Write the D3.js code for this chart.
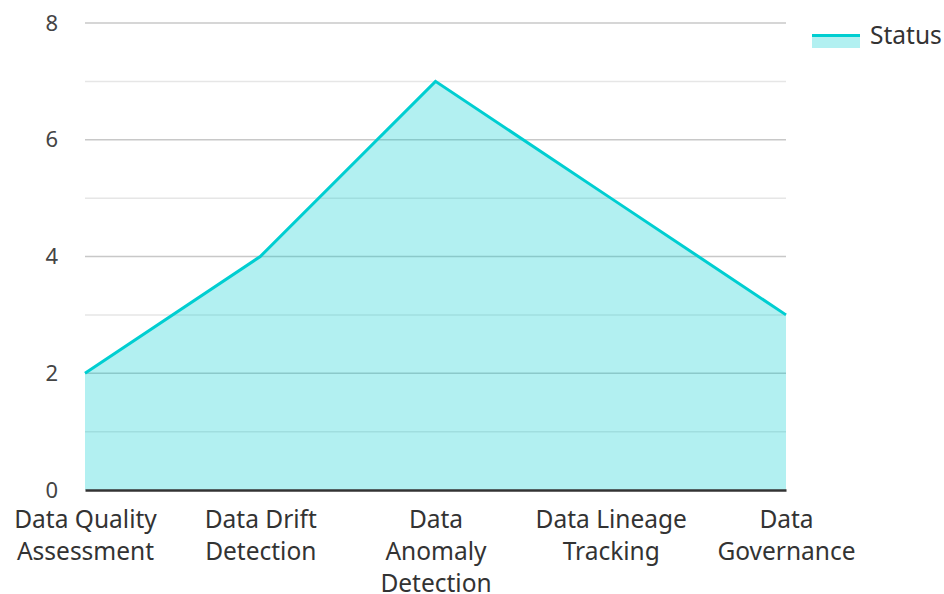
<!DOCTYPE html>
<html>
<head>
<meta charset="utf-8">
<script src="https://cdn.jsdelivr.net/npm/d3@7"></script>
<style>
  body { margin: 0; background: #fff; }
  svg text { font-family: "Noto Sans", sans-serif; fill: #333; }
</style>
</head>
<body>
<div id="chart"></div>
<script>
// chart data
var categories = ["Data Quality Assessment", "Data Drift Detection", "Data Anomaly Detection", "Data Lineage Tracking", "Data Governance"];
// how each category label breaks into lines
var tickLabels = [["Data Quality", "Assessment"], ["Data Drift", "Detection"], ["Data", "Anomaly", "Detection"], ["Data Lineage", "Tracking"], ["Data", "Governance"]];
var statusValues = [2, 4, 7, 5, 3];
var yTicks = [0, 2, 4, 6, 8];
var yMinor = [1, 3, 5, 7];

var W = 944, H = 594;
var margin = {top: 23, right: 158, bottom: 104, left: 85},
    width = W - margin.left - margin.right,
    height = H - margin.top - margin.bottom;

var color = "#00ced1";

var svg = d3.select("#chart").append("svg")
    .attr("width", W)
    .attr("height", H);

var g = svg.append("g")
    .attr("transform", "translate(" + margin.left + "," + margin.top + ")");

var x = d3.scalePoint().domain(categories).range([0, width]);
var y = d3.scaleLinear().domain([0, 8]).range([height, 0]);

// gridlines
g.selectAll(".minor").data(yMinor).enter().append("line")
    .attr("x1", 0).attr("x2", width)
    .attr("y1", function(d) { return y(d); })
    .attr("y2", function(d) { return y(d); })
    .style("stroke", "#e6e6e6").style("stroke-width", 1.5);

g.selectAll(".major").data(yTicks.filter(function(d) { return d > 0; })).enter().append("line")
    .attr("x1", 0).attr("x2", width)
    .attr("y1", function(d) { return y(d); })
    .attr("y2", function(d) { return y(d); })
    .style("stroke", "#c8c8c8").style("stroke-width", 1.5);

// area + line
var data = categories.map(function(c, i) { return {cat: c, v: statusValues[i]}; });

g.append("path")
    .datum(data)
    .attr("d", d3.area()
        .x(function(d) { return x(d.cat); })
        .y0(y(0))
        .y1(function(d) { return y(d.v); }))
    .style("fill", color)
    .style("fill-opacity", 0.3);

g.append("path")
    .datum(data)
    .attr("d", d3.line()
        .x(function(d) { return x(d.cat); })
        .y(function(d) { return y(d.v); }))
    .style("fill", "none")
    .style("stroke", color)
    .style("stroke-width", 3);

// y axis labels
var yAxis = g.append("g")
    .call(d3.axisLeft(y).tickValues(yTicks).tickSize(0).tickPadding(27));
yAxis.select(".domain").remove();
yAxis.selectAll("text")
    .style("font-size", "22px")
    .style("font-family", "Noto Sans, sans-serif")
    .style("fill", "#444");

// x axis
var xAxis = g.append("g")
    .attr("transform", "translate(0," + height + ")")
    .call(d3.axisBottom(x).tickSize(0).tickFormat(""));
xAxis.select(".domain")
    .style("stroke", "#333")
    .style("stroke-width", 2.5);

xAxis.selectAll(".tick").each(function(d, i) {
  var t = d3.select(this).append("text")
      .attr("text-anchor", "middle")
      .style("font-size", "24.5px")
      .style("fill", "#333");
  tickLabels[i].forEach(function(line, j) {
    t.append("tspan")
        .attr("x", 0)
        .attr("y", 38 + j * 32)
        .text(line);
  });
});

// legend
var legend = svg.append("g").attr("transform", "translate(812,34)");
legend.append("rect")
    .attr("x", 0).attr("y", 0)
    .attr("width", 48).attr("height", 14)
    .style("fill", color).style("fill-opacity", 0.3);
legend.append("line")
    .attr("x1", 0).attr("x2", 48)
    .attr("y1", 1.5).attr("y2", 1.5)
    .style("stroke", color).style("stroke-width", 3);
legend.append("text")
    .attr("x", 58).attr("y", 10)
    .style("font-size", "24.5px")
    .style("fill", "#333")
    .text("Status");
</script>
</body>
</html>
